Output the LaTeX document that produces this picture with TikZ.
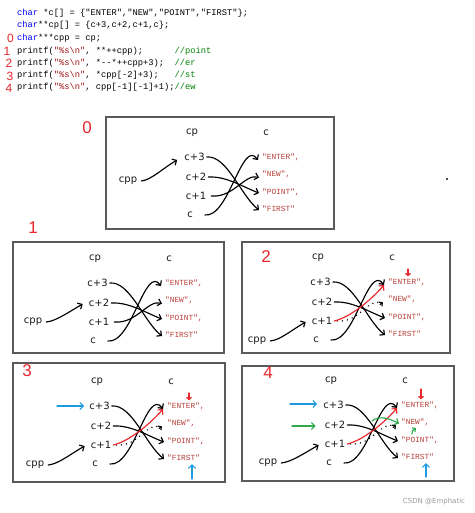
\documentclass[tikz,border=0pt]{standalone}
\usepackage{fontspec}
\setmainfont{DejaVu Sans}
\newfontfamily\codefont{Liberation Mono}[Ligatures=TeXOff]
\newfontfamily\lblfont{DejaVu Sans}
\newfontfamily\handfont{Liberation Sans}
\usetikzlibrary{arrows.meta}
\definecolor{kw}{HTML}{0000FF}
\definecolor{cm}{HTML}{008000}
\definecolor{st}{HTML}{A31515}
\definecolor{hred}{HTML}{E8262B}
\definecolor{sred}{HTML}{B8403A}
\definecolor{hblue}{HTML}{1E9BE0}
\definecolor{hgreen}{HTML}{2EAA4A}
\definecolor{boxc}{HTML}{5A5A5A}
\tikzset{
 code/.style={anchor=base west, inner sep=0pt, font=\codefont\fontsize{8.75}{10}\selectfont},
 cnum/.style={inner sep=0pt, text=hred, font=\handfont\fontsize{12}{12}\selectfont},
 plabel/.style={text=hred, inner sep=0pt, font=\handfont\fontsize{17}{17}\selectfont},
 lbl/.style={inner sep=1pt, font=\lblfont\fontsize{10}{11}\selectfont, text=black!90},
 str/.style={anchor=west, inner sep=1pt, text=sred, font=\codefont\fontsize{7.8}{9}\selectfont},
 panelbox/.style={draw=boxc, line width=1.1pt},
 ink/.style={line width=1.15pt, line cap=round},
 tip/.style={-{Straight Barb[length=3.5pt,width=7pt]}},
 smalltip/.style={-{Straight Barb[length=2.2pt,width=5pt]}},
 dots/.style={line width=1.5pt, line cap=round, dash pattern=on 0.1pt off 5pt},
 wm/.style={text=black!40, inner sep=0pt, font=\lblfont\fontsize{7}{8}\selectfont},
}
% #1 suffix, #2 cpp position
\newcommand{\panelcore}[2]{%
 \node[lbl] (cp#1) at (0,0) {cp};
 \node[lbl] (cc#1) at (74,0) {c};
 \node[lbl] (pa#1) at (2.5,24) {c+3};
 \node[lbl] (pb#1) at (4,44) {c+2};
 \node[lbl] (pc#1) at (4,63) {c+1};
 \node[lbl] (pd#1) at (-2,82) {c};
 \node[str] (sa#1) at (69,24) {"ENTER",};
 \node[str] (sb#1) at (69,41.5) {"NEW",};
 \node[str] (sc#1) at (69,59) {"POINT",};
 \node[str] (sd#1) at (69,76) {"FIRST"};
 \node[lbl] (cpp#1) at #2 {cpp};
 \draw[ink,tip] ([xshift=1pt]pa#1.east) .. controls +(20,-2) and +(-18,-14) .. ([xshift=-2pt,yshift=-1pt]sd#1.west);
 \draw[ink,tip] ([xshift=1pt]pb#1.east) .. controls +(18,-1) and +(-16,-6) .. ([xshift=-2pt,yshift=-1pt]sc#1.west);
 \draw[ink,tip] ([xshift=11pt]pd#1.east) .. controls +(24,3) and +(-16,-22) .. ([xshift=-3pt,yshift=-3pt]sa#1.west);
}
\begin{document}
\begin{tikzpicture}[x=1pt,y=-1pt]
\fill[white] (0,0) rectangle (474,513);
\useasboundingbox (0,0) rectangle (474,513);

% ---- code ----
\node[code] (l1) at (17,16) {\textcolor{kw}{char} *c[] = \{"ENTER","NEW","POINT","FIRST"\};};
\node[code] (l2) at (17,28) {\textcolor{kw}{char}**cp[] = \{c+3,c+2,c+1,c\};};
\node[code] (l3) at (17,41) {\textcolor{kw}{char}***cpp = cp;};
\node[code] (l4) at (17,54) {printf(\textcolor{st}{"\%s\textbackslash n"}, **++cpp);};
\node[code] (l5) at (17,66) {printf(\textcolor{st}{"\%s\textbackslash n"}, *--*++cpp+3);};
\node[code] (l6) at (17,78) {printf(\textcolor{st}{"\%s\textbackslash n"}, *cpp[-2]+3);};
\node[code] (l7) at (17,90) {printf(\textcolor{st}{"\%s\textbackslash n"}, cpp[-1][-1]+1);};
\node[code,text=cm] (k4) at (174.5,54) {//point};
\node[code,text=cm] (k5) at (174.5,66) {//er};
\node[code,text=cm] (k6) at (174.5,78) {//st};
\node[code,text=cm] (k7) at (174.5,90) {//ew};
\node[cnum] (n0) at (10.5,38) {0};
\node[cnum] (n1) at (7,51) {1};
\node[cnum] (n2) at (9,63.5) {2};
\node[cnum] (n3) at (10,76) {3};
\node[cnum] (n4) at (9,88) {4};

% ---- boxes ----
\draw[panelbox] (106,117) rectangle (334,229);
\draw[panelbox] (13,242) rectangle (224,353);
\draw[panelbox] (242,242) rectangle (450,353);
\draw[panelbox] (13,363) rectangle (225,482);
\draw[panelbox] (242,366) rectangle (454,481);

\node[plabel] (t0) at (87,128) {0};
\node[plabel] (t1) at (33,228) {1};
\node[plabel] (t2) at (266,257) {2};
\node[plabel] (t3) at (27,371) {3};
\node[plabel] (t4) at (268,373) {4};

% ---- panel 0 ----
\begin{scope}[shift={(192,133)}]
 \panelcore{0}{(-64,48)}
 \draw[ink,tip] ([xshift=4pt]pc0.east) .. controls +(22,2) and +(-14,-4) .. ([xshift=-2pt,yshift=-3pt]sb0.west);
 \draw[ink,tip] ([xshift=3pt]cpp0.east) .. controls +(10,-1) and +(-14,8) .. ([xshift=-6pt,yshift=-3pt]pa0.west);
\end{scope}
\fill[black!70] (446,178) rectangle (447.5,180);

% ---- panel 1 ----
\begin{scope}[shift={(95,259)}]
 \panelcore{1}{(-62,63)}
 \draw[ink,tip] ([xshift=4pt]pc1.east) .. controls +(22,2) and +(-14,-4) .. ([xshift=-2pt,yshift=-3pt]sb1.west);
 \draw[ink,tip] ([xshift=3pt]cpp1.east) .. controls +(10,-1) and +(-14,8) .. ([xshift=-5pt,yshift=-1pt]pb1.west);
\end{scope}

% ---- panel 2 ----
\begin{scope}[shift={(318,258)}]
 \panelcore{2}{(-61,83)}
 \draw[dots] ([xshift=4pt]pc2.east) .. controls +(22,2) and +(-14,-4) .. ([xshift=-6pt,yshift=-3pt]sb2.west);
 \draw[ink,smalltip] ([xshift=-7pt,yshift=-5pt]sb2.west) -- ([xshift=-4pt,yshift=-3pt]sb2.west);
 \draw[ink,draw=hred,tip] ([xshift=1pt]pc2.east) .. controls +(16,-4) and +(-14,16) .. ([xshift=-3pt,yshift=-3pt]sa2.west);
 \draw[ink,tip] ([xshift=3pt]cpp2.east) .. controls +(10,-1) and +(-14,8) .. ([xshift=-5pt,yshift=-1pt]pc2.west);
 \coordinate (ra2) at (90,11);
 \draw[ink,draw=hred,smalltip] (ra2) -- ([yshift=1pt]sa2.north -| ra2);
\end{scope}

% ---- panel 3 ----
\begin{scope}[shift={(97,382)}]
 \panelcore{3}{(-62,83)}
 \draw[dots] ([xshift=4pt]pc3.east) .. controls +(22,2) and +(-14,-4) .. ([xshift=-6pt,yshift=-3pt]sb3.west);
 \draw[ink,smalltip] ([xshift=-7pt,yshift=-5pt]sb3.west) -- ([xshift=-4pt,yshift=-3pt]sb3.west);
 \draw[ink,draw=hred,tip] ([xshift=1pt]pc3.east) .. controls +(16,-4) and +(-14,16) .. ([xshift=-3pt,yshift=-3pt]sa3.west);
 \draw[ink,tip] ([xshift=3pt]cpp3.east) .. controls +(10,-1) and +(-14,8) .. ([xshift=-5pt,yshift=-1pt]pc3.west);
 \coordinate (ra3) at (92,11);
 \draw[ink,draw=hred,smalltip] (ra3) -- ([yshift=1pt]sa3.north -| ra3);
 \coordinate (ba3) at (-40,24);
 \draw[ink,draw=hblue,tip] (ba3) -- ([xshift=-4pt]pa3.west);
 \coordinate (bb3) at (95,97);
 \draw[ink,draw=hblue,tip] (bb3) -- ([yshift=-2pt]sd3.south -| bb3);
\end{scope}

% ---- panel 4 ----
\begin{scope}[shift={(331,381)}]
 \panelcore{4}{(-63,82)}
 \draw[dots] ([xshift=4pt]pc4.east) .. controls +(22,2) and +(-14,-4) .. ([xshift=-6pt,yshift=-3pt]sb4.west);
 \draw[ink,smalltip] ([xshift=-7pt,yshift=-5pt]sb4.west) -- ([xshift=-4pt,yshift=-3pt]sb4.west);
 \draw[ink,draw=hred,tip] ([xshift=1pt]pc4.east) .. controls +(16,-4) and +(-14,16) .. ([xshift=-3pt,yshift=-3pt]sa4.west);
 \draw[ink,tip] ([xshift=3pt]cpp4.east) .. controls +(10,-1) and +(-14,8) .. ([xshift=-5pt,yshift=-1pt]pc4.west);
 \coordinate (ra4) at (90,8);
 \draw[ink,draw=hred,smalltip] (ra4) -- ([yshift=1pt]sa4.north -| ra4);
 \coordinate (ba4) at (-41,23);
 \draw[ink,draw=hblue,tip] (ba4) -- ([xshift=-5pt,yshift=1pt]pa4.west);
 \coordinate (bb4) at (95,96);
 \draw[ink,draw=hblue,tip] (bb4) -- ([yshift=-2pt]sd4.south -| bb4);
 \coordinate (ga4) at (-39,45);
 \draw[ink,draw=hgreen,tip] (ga4) -- ([xshift=-8pt,yshift=-1pt]pb4.west);
 \coordinate (gb4) at (41,40);
 \draw[ink,draw=hgreen,tip] (gb4) .. controls +(8,-6) and +(-10,-5) .. ([xshift=-1pt,yshift=-1pt]sb4.west);
 \coordinate (gc4) at (81,53);
 \draw[ink,draw=hgreen,smalltip] (gc4) .. controls +(0,-3) .. ([xshift=16pt,yshift=-1pt]sb4.south west);
\end{scope}

\node[wm] (wmk) at (434,502) {CSDN @Emphatic};
\end{tikzpicture}
\end{document}
